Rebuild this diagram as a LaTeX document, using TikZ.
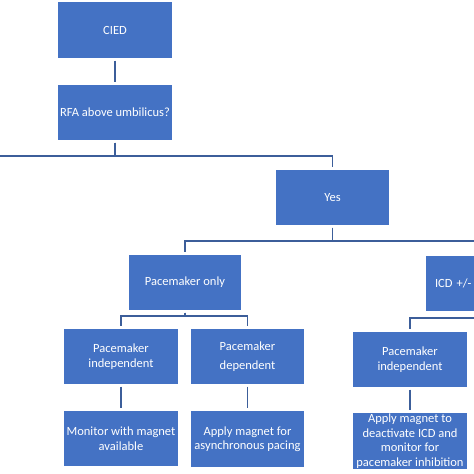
\documentclass[tikz,border=0pt]{standalone}
\usepackage{fontspec}
\setmainfont{Carlito}
\usetikzlibrary{positioning}
\definecolor{boxblue}{HTML}{4472C4}
\definecolor{lineblue}{HTML}{3C5E9A}
\tikzset{
  box/.style={fill=boxblue, text=white, minimum width=114pt, minimum height=55pt,
    inner sep=1pt, align=center, font=\fontsize{12.5}{14.5}\selectfont},
  link/.style={draw=lineblue, line width=1.8pt, shorten <=2.5pt, shorten >=2.5pt}}
\begin{document}
\begin{tikzpicture}[x=1pt,y=-1pt]
\useasboundingbox (0,0) rectangle (474,474);
\node[box, minimum height=56pt] (cied) at (115,30) {CIED};
\node[box] (rfa) at (115,112.5) {RFA above umbilicus?};
\node[box, minimum width=113pt] (yes) at (332.5,197.5) {Yes};
\coordinate (no) at (-60,170);
\node[box, minimum width=112pt] (pmonly) at (185,282.5) {Pacemaker only};
\node[box, text width=96pt, inner xsep=9pt, align=left] (icd) at (483,283.5) {ICD +/-};
\node[box] (pind) at (121,356.5) {Pacemaker\\independent};
\node[box, minimum width=113pt] (pdep) at (247.5,356.5) {Pacemaker\\[5pt]dependent};
\node[box] (monitor) at (121,438.5) {Monitor with magnet\\available};
\node[box, minimum width=113pt, minimum height=56pt] (async) at (247.5,439) {Apply magnet for\\asynchronous pacing};
\node[box] (icdind) at (410,359.5) {Pacemaker\\independent};
\node[box, minimum height=56pt] (deact) at (410,441) {Apply magnet to\\deactivate ICD and\\monitor for\\pacemaker inhibition};
% connectors
\draw[link] (cied) -- (rfa);
\draw[link] (rfa.south) -- ++(0,16) -| (yes.north);
\draw[link] (rfa.south) -- ++(0,16) -| (no);
\draw[link] (yes.south) -- ++(0,16) -| (pmonly.north);
\draw[link] (yes.south) -- ++(0,16) -| (icd.north);
\draw[link] (pmonly.south) -- ++(0,6) -| (pind.north);
\draw[link] (pmonly.south) -- ++(0,6) -| (pdep.north);
\draw[link] (icd.south) -- ++(0,7) -| (icdind.north);
\draw[link] (pind) -- (monitor);
\draw[link] (pdep) -- (async);
\draw[link] (icdind) -- (deact);
\end{tikzpicture}
\end{document}
